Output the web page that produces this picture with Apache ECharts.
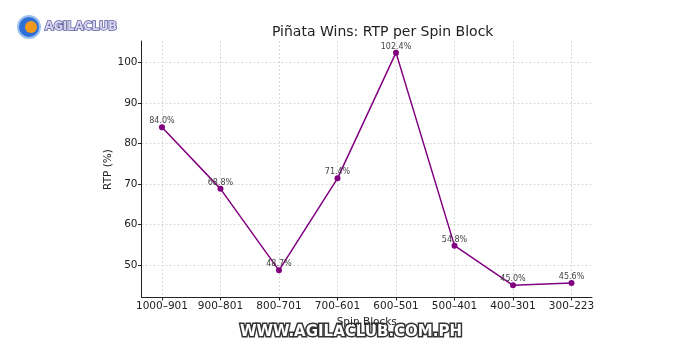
<!DOCTYPE html>
<html>
<head>
<meta charset="utf-8">
<script src="https://cdn.jsdelivr.net/npm/echarts@6/dist/echarts.min.js"></script>
<style>html,body{margin:0;padding:0;background:#fff}#c{width:700px;height:350px}</style>
</head>
<body>
<div id="c"></div>
<script>
const categories = ['1000–901','900–801','800–701','700–601','600–501','500–401','400–301','300–223'];
const rtpValues = [84.0, 68.8, 48.7, 71.4, 102.4, 54.8, 45.0, 45.6];
const yTicks = [50, 60, 70, 80, 90, 100];
const xTicks = categories.map((c, i) => i);

const chart = echarts.init(document.getElementById('c'), null, {renderer: 'canvas'});
const font = 'DejaVu Sans';
const points = rtpValues.map((v, i) => [i, v]);

chart.setOption({
  animation: false,
  backgroundColor: '#ffffff',
  title: {
    text: 'Piñata Wins: RTP per Spin Block',
    left: 377.7, top: 20, textAlign: 'center',
    textStyle: {fontFamily: font, fontSize: 14, fontWeight: 'normal', color: '#222'}
  },
  grid: {left: 141.5, right: 108, top: 41, bottom: 53, containLabel: false},
  xAxis: {
    type: 'value',
    min: v => v.min - 0.05 * (v.max - v.min),
    max: v => v.max + 0.05 * (v.max - v.min),
    name: 'Spin Blocks', nameLocation: 'middle', nameGap: 18,
    nameTextStyle: {fontFamily: font, fontSize: 10.5, color: '#222'},
    axisLine: {show: true, onZero: false, lineStyle: {color: '#222', width: 1}},
    axisTick: {show: true, length: 3.5, customValues: xTicks, lineStyle: {color: '#222'}},
    axisLabel: {customValues: xTicks, formatter: v => categories[Math.round(v)] || '', fontFamily: font, fontSize: 10.5, color: '#222', margin: 4},
    splitLine: {show: true, lineStyle: {color: '#d0d0d0', type: [2, 2], width: 0.8}}
  },
  yAxis: {
    type: 'value',
    min: v => v.min - 0.05 * (v.max - v.min),
    max: v => v.max + 0.05 * (v.max - v.min),
    axisLine: {show: true, onZero: false, lineStyle: {color: '#222', width: 1}},
    axisTick: {show: true, length: 3.5, customValues: yTicks, lineStyle: {color: '#222'}},
    axisLabel: {customValues: yTicks, fontFamily: font, fontSize: 10.5, color: '#222', margin: 4},
    splitLine: {show: true, lineStyle: {color: '#d0d0d0', type: [2, 2], width: 0.8}}
  },
  graphic: [
    {type: 'text', x: 108.7, y: 169.5, rotation: Math.PI / 2, style: {text: 'RTP (%)', align: 'center', verticalAlign: 'middle', fontFamily: font, fontSize: 10.5, fill: '#222'}},
    {type: 'circle', shape: {cx: 29, cy: 27, r: 11}, style: {fill: '#2f6fd6', stroke: '#9cc1f0', lineWidth: 2}},
    {type: 'circle', shape: {cx: 31, cy: 27, r: 6}, style: {fill: '#f39a1e'}},
    {type: 'text', left: 44, top: 20, style: {text: 'AGILACLUB', fontFamily: font, fontSize: 11.5, fontWeight: 'bold', fill: '#d9d6f2', stroke: '#5a5a9a', lineWidth: 1.5}},
    {type: 'text', x: 351, y: 332, style: {text: 'WWW.AGILACLUB.COM.PH', align: 'center', verticalAlign: 'middle', fontFamily: font, fontSize: 15, fontWeight: 'bold', fill: '#ffffff', stroke: '#333333', lineWidth: 3, shadowBlur: 3, shadowColor: 'rgba(0,0,0,0.5)', shadowOffsetY: 1}}
  ],
  series: [{
    type: 'line',
    data: points,
    symbol: 'circle', symbolSize: 6,
    lineStyle: {color: '#800080', width: 1.5},
    itemStyle: {color: '#800080'},
    label: {show: true, position: 'top', distance: -1, formatter: p => p.value[1].toFixed(1) + '%', fontFamily: font, fontSize: 8, color: '#444'}
  }]
});
</script>
</body>
</html>
